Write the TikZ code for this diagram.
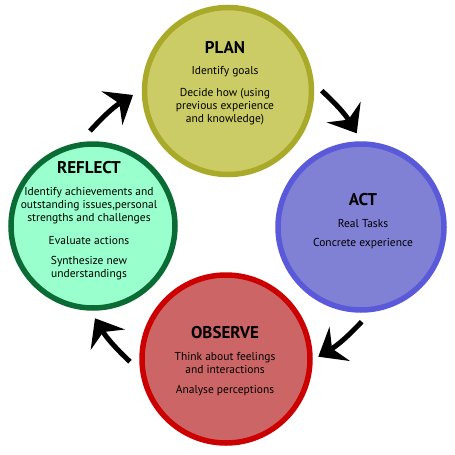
\documentclass[tikz,border=0pt]{standalone}
\usepackage{fontspec}
\setmainfont{PT Sans}
\usetikzlibrary{arrows.meta}
\definecolor{planfill}{HTML}{CCCC66}
\definecolor{planedge}{HTML}{A9A92A}
\definecolor{actfill}{HTML}{8080D5}
\definecolor{actedge}{HTML}{5959D9}
\definecolor{reffill}{HTML}{99FFCC}
\definecolor{refedge}{HTML}{0A6B35}
\definecolor{obsfill}{HTML}{CC6666}
\definecolor{obsedge}{HTML}{CC0000}
\begin{document}
\begin{tikzpicture}[x=1pt,y=-1pt,
  stage/.style={circle, minimum size=#1, inner sep=0pt, line width=5.5pt},
  ttl/.style={font=\fontsize{17}{20}\selectfont\bfseries, inner sep=0pt},
  txt/.style={font=\fontsize{11.5}{13}\selectfont, align=center, inner sep=0pt},
  cyc/.style={line width=5pt, -{Stealth[length=25pt,width=40pt,inset=9pt,line width=0pt]}, bend left=8}
]
\useasboundingbox (0,0) rectangle (455,455);
\fill[white] (0,0) rectangle (455,455);
% circles
\node[stage=167pt, draw=planedge, fill=planfill] (plan) at (228,91) {};
\node[stage=166pt, draw=actedge, fill=actfill] (act) at (361,227) {};
\node[stage=164pt, draw=refedge, fill=reffill] (reflect) at (93,226) {};
\node[stage=168pt, draw=obsedge, fill=obsfill] (observe) at (226,359) {};
% PLAN text
\node[ttl] (plant) at (225,48) {PLAN};
\node[txt] (plan1) at (225,72) {Identify goals};
\node[txt] (plan2) at (225,107) {Decide how (using\\previous experience\\and knowledge)};
% ACT text
\node[ttl] (actt) at (363,200) {ACT};
\node[txt] (act1) at (363,223) {Real Tasks};
\node[txt] (act2) at (363,244) {Concrete experience};
% REFLECT text
\node[ttl] (reft) at (89,168) {REFLECT};
\node[txt] (ref1) at (89,205.5) {Identify achievements and\\outstanding issues,personal\\strengths and challenges};
\node[txt] (ref2) at (89,240) {Evaluate actions};
\node[txt] (ref3) at (89,268.5) {Synthesize new\\understandings};
% OBSERVE text
\node[ttl] (obst) at (225,333) {OBSERVE};
\node[txt] (obs1) at (225,362.5) {Think about feelings\\and interactions};
\node[txt] (obs2) at (225,391) {Analyse perceptions};
% arrows
\coordinate (a1s) at (90,131);
\coordinate (a1e) at (133,95);
\coordinate (a2s) at (321.7,90.7);
\coordinate (a2e) at (356.7,133.3);
\coordinate (a3s) at (361.7,321.7);
\coordinate (a3e) at (318.3,356.7);
\coordinate (a4s) at (130,361.7);
\coordinate (a4e) at (95,318.3);
\draw[cyc] (a1s) to (a1e);
\draw[cyc] (a2s) to (a2e);
\draw[cyc] (a3s) to (a3e);
\draw[cyc] (a4s) to (a4e);
\end{tikzpicture}
\end{document}
